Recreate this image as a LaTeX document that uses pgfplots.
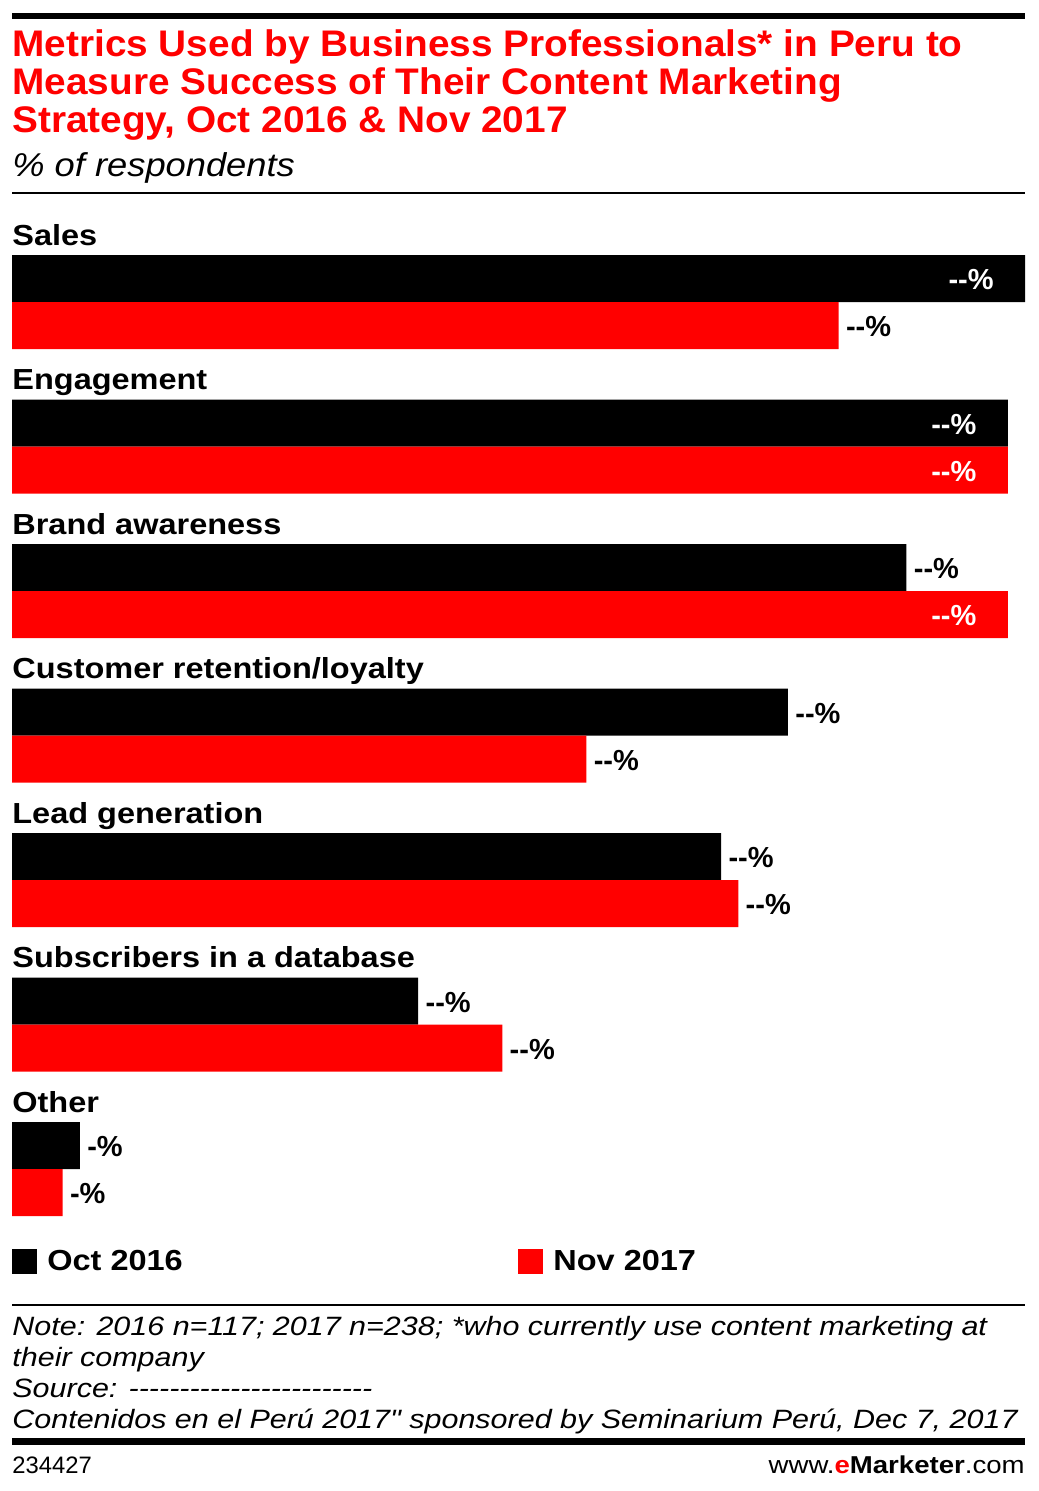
\documentclass[border=0pt]{standalone}
\usepackage{fontspec}
\setmainfont{Liberation Sans}
\newfontfamily\titlefam{Liberation Sans Bold}[FakeStretch=1.048]
\newfontfamily\catfam{Liberation Sans Bold}[FakeStretch=1.12]
\newfontfamily\notefam{Liberation Sans Italic}[FakeStretch=1.15,Ligatures=TeXOff]
\newfontfamily\subfam{Liberation Sans Italic}[FakeStretch=1.1]
\newfontfamily\logofam{Liberation Sans}[FakeStretch=1.13]
\usepackage{pgfplots}
\usepackage{pgfplotstable}
\pgfplotsset{compat=1.18}
\definecolor{emred}{RGB}{255,0,0}
\def\h{-\kern0pt}
\newcommand\catfont{\catfam\fontsize{14.5}{16}\selectfont}
\newcommand\valfont{\bfseries\fontsize{14.5}{16}\selectfont}
\newcommand\notefont{\notefam\fontsize{13.25}{15.5}\selectfont}

% values: bar length as % of the longest bar (Sales, Oct 2016)
\pgfplotstableread{
y  v16    v17
6  100.0  81.6
5  98.3   98.3
4  88.3   98.3
3  76.6   56.7
2  70.0   71.7
1  40.1   48.4
0  6.7    5.0
}\data

\begin{document}
\begin{tikzpicture}
\path[use as bounding box] (0,0) rectangle (519pt,-745.5pt);
\begin{scope}[x=0.5pt,y=-0.5pt]
\fill (12,13) rectangle (1025,19);
\begin{scope}[every node/.style={anchor=base west, inner sep=0pt, text=emred, font=\titlefam\fontsize{18.5}{19}\selectfont}]
\node at (12,57) {Metrics Used by Business Professionals* in Peru to};
\node at (12,95) {Measure Success of Their Content Marketing};
\node at (12,133) {Strategy, Oct 2016 \& Nov 2017};
\end{scope}
\node[anchor=base west, inner sep=0pt, font=\subfam\fontsize{16.5}{18}\selectfont] at (12,177) {\% of respondents};
\fill (12,192) rectangle (1025,194);
\fill (12,1304) rectangle (1025,1306);
\begin{scope}[every node/.style={anchor=base west, inner sep=0pt, font=\notefont}]
\node at (12,1335) {Note: 2016 n=117; 2017 n=238; *who currently use content marketing at};
\node at (12,1366) {their company};
\node at (12,1397) {Source: ------------------------};
\node at (12,1428) {Contenidos en el Perú 2017" sponsored by Seminarium Perú, Dec 7, 2017};
\end{scope}
\fill (12,1438) rectangle (1025,1445);
\node[anchor=base west, inner sep=0pt, font=\fontsize{11.9}{13}\selectfont] at (12,1473) {234427};
\node[anchor=base east, inner sep=0pt, font=\logofam\fontsize{12.2}{13}\selectfont] at (1025,1473) {www.{\bfseries\color{emred}e}{\bfseries Marketer}.com};
\end{scope}

\begin{axis}[
  at={(6pt,-656.75pt)}, anchor=south west,
  width=506.5pt, height=578pt, scale only axis,
  xmin=0, xmax=100, ymin=-1, ymax=7,
  hide axis, clip=false,
  xbar, bar width=23.5pt,
  legend columns=2,
  legend image code/.code={\fill[#1] (0pt,-6.25pt) rectangle (12.5pt,6.25pt);},
  legend style={at={(0,0.045)}, anchor=west, draw=none, fill=none,
    inner sep=0pt, font=\catfont, nodes={inner sep=0pt},
    /tikz/every odd column/.append style={column sep=5pt}},
]
\addplot[fill=black, draw=none, bar shift=11.75pt] table[x=v16,y=y]{\data};
\addlegendentry{\makebox[235.5pt][l]{Oct 2016}}
\addplot[fill=emred, draw=none, bar shift=-11.75pt] table[x=v17,y=y]{\data};
\addlegendentry{Nov 2017}

% category labels
\begin{scope}[every node/.style={anchor=base west, inner sep=0pt, font=\catfont, yshift=28.5pt}]
\node at (axis cs:0,6) {Sales};
\node at (axis cs:0,5) {Engagement};
\node at (axis cs:0,4) {Brand awareness};
\node at (axis cs:0,3) {Customer retention/loyalty};
\node at (axis cs:0,2) {Lead generation};
\node at (axis cs:0,1) {Subscribers in a database};
\node at (axis cs:0,0) {Other};
\end{scope}
% value labels
\tikzset{
  outb/.style={anchor=base west, inner sep=0pt, font=\valfont, xshift=3.5pt, yshift=6.25pt},
  outr/.style={anchor=base west, inner sep=0pt, font=\valfont, xshift=3.5pt, yshift=-17.25pt},
  inb/.style={anchor=base east, inner sep=0pt, font=\valfont, text=white, xshift=-15.5pt, yshift=6.25pt},
  inr/.style={anchor=base east, inner sep=0pt, font=\valfont, text=white, xshift=-15.5pt, yshift=-17.25pt},
}
\node[inb]  at (axis cs:100.0,6) {\h\h\%};
\node[outr] at (axis cs:81.6,6) {\h\h\%};
\node[inb]  at (axis cs:98.3,5) {\h\h\%};
\node[inr]  at (axis cs:98.3,5) {\h\h\%};
\node[outb] at (axis cs:88.3,4) {\h\h\%};
\node[inr]  at (axis cs:98.3,4) {\h\h\%};
\node[outb] at (axis cs:76.6,3) {\h\h\%};
\node[outr] at (axis cs:56.7,3) {\h\h\%};
\node[outb] at (axis cs:70.0,2) {\h\h\%};
\node[outr] at (axis cs:71.7,2) {\h\h\%};
\node[outb] at (axis cs:40.1,1) {\h\h\%};
\node[outr] at (axis cs:48.4,1) {\h\h\%};
\node[outb] at (axis cs:6.7,0) {\h\%};
\node[outr] at (axis cs:5.0,0) {\h\%};
\end{axis}
\end{tikzpicture}
\end{document}
